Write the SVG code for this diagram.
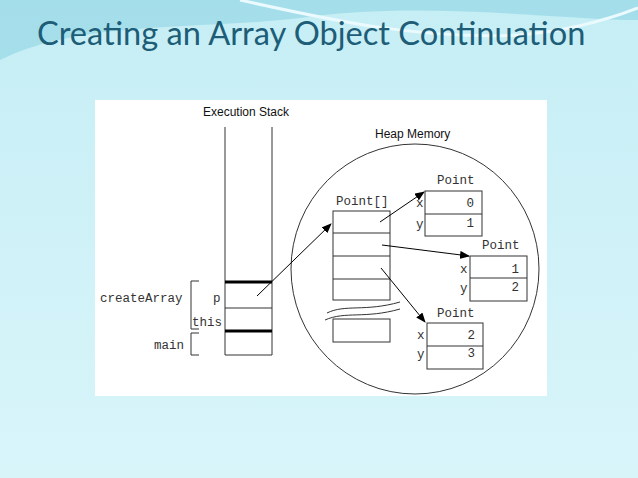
<svg xmlns="http://www.w3.org/2000/svg" width="638" height="478" viewBox="0 0 638 478">
<defs>
<linearGradient id="bg" x1="0" y1="0" x2="0" y2="1"><stop offset="0" stop-color="#c6eef5"/><stop offset="1" stop-color="#d8f5fa"/></linearGradient>
<marker id="ah" markerWidth="10" markerHeight="8" refX="9" refY="4" orient="auto" markerUnits="userSpaceOnUse"><path d="M0,0 L10,4 L0,8 Z" fill="#000"/></marker>
<style>
.m{font-family:"Liberation Mono",monospace;font-size:12.5px;fill:#333}
.s{font-family:"Liberation Sans",Arial,sans-serif;font-size:12px;fill:#111}
.b{fill:#fff;stroke:#333;stroke-width:1}
.l{stroke:#333;stroke-width:1;fill:none}
.k{stroke:#000;stroke-width:3}
.c{stroke:#000;stroke-width:1;fill:none;marker-end:url(#ah)}
</style>
</defs>
<rect width="638" height="478" fill="url(#bg)"/>
<path d="M0,0 H638 V20 C560,20 420,0 300,18 C200,30 80,20 0,60 Z" fill="#8dd3e2" opacity="0.6"/>
<path d="M240,0 C330,20 420,40 520,35 C580,30 620,15 638,8" stroke="#eafaff" stroke-width="3" fill="none"/>
<text x="37" y="45" font-family="Lato,'Open Sans',sans-serif" font-size="32.6" fill="#1d5d77">Creating an Array Object Continuation</text>
<rect x="95" y="100" width="452" height="296" fill="#fff"/>
<g id="stack">
<text class="s" x="203" y="116">Execution Stack</text>
<line class="l" x1="225" y1="127" x2="225" y2="355"/>
<line class="l" x1="272" y1="127" x2="272" y2="355"/>
<line class="k" x1="225" y1="282" x2="272" y2="282"/>
<line class="l" x1="225" y1="308" x2="272" y2="308"/>
<line class="k" x1="225" y1="331" x2="272" y2="331"/>
<line class="l" x1="225" y1="355" x2="272" y2="355"/>
<text class="m" x="100" y="302">createArray</text>
<path class="l" d="M199,281 H191 V329 H199"/>
<text class="m" x="213" y="302">p</text>
<text class="m" x="192" y="326">this</text>
<path class="l" d="M199,333 H191 V355 H199"/>
<text class="m" x="154" y="349">main</text>
</g>
<g id="heap">
<ellipse class="l" cx="415" cy="269" rx="124" ry="125"/>
<text class="s" x="375" y="138">Heap Memory</text>
</g>
<g id="array">
<text class="m" x="336" y="205">Point[]</text>
<rect class="b" x="333" y="211" width="57" height="89"/>
<line class="l" x1="333" y1="233" x2="390" y2="233"/>
<line class="l" x1="333" y1="256" x2="390" y2="256"/>
<line class="l" x1="333" y1="279" x2="390" y2="279"/>
<path class="l" d="M327,313 C345,304 365,312 400,302"/>
<path class="l" d="M325,320 C345,311 365,319 400,309"/>
<rect class="b" x="333" y="319" width="57" height="23"/>
</g>
<g id="point1">
<text class="m" x="437" y="184">Point</text>
<rect class="b" x="425" y="191" width="57" height="45"/>
<line class="l" x1="425" y1="214" x2="482" y2="214"/>
<text class="m" x="416" y="207">x</text><text class="m" x="416" y="228">y</text>
<text class="m" x="474" y="207" text-anchor="end">0</text><text class="m" x="474" y="227" text-anchor="end">1</text>
</g>
<g id="point2">
<text class="m" x="482" y="249">Point</text>
<rect class="b" x="470" y="256" width="57" height="45"/>
<line class="l" x1="470" y1="278" x2="527" y2="278"/>
<text class="m" x="460" y="273">x</text><text class="m" x="460" y="292">y</text>
<text class="m" x="519" y="273" text-anchor="end">1</text><text class="m" x="519" y="291" text-anchor="end">2</text>
</g>
<g id="point3">
<text class="m" x="437" y="317">Point</text>
<rect class="b" x="427" y="323" width="56" height="46"/>
<line class="l" x1="427" y1="346" x2="483" y2="346"/>
<text class="m" x="417" y="339">x</text><text class="m" x="417" y="358">y</text>
<text class="m" x="475" y="339" text-anchor="end">2</text><text class="m" x="475" y="357" text-anchor="end">3</text>
</g>
<g id="connectors">
<line class="c" x1="257" y1="296" x2="331" y2="224"/>
<line class="c" x1="380" y1="222" x2="424" y2="192"/>
<line class="c" x1="382" y1="245" x2="469" y2="256"/>
<line class="c" x1="381" y1="268" x2="425" y2="322"/>
</g>
</svg>
